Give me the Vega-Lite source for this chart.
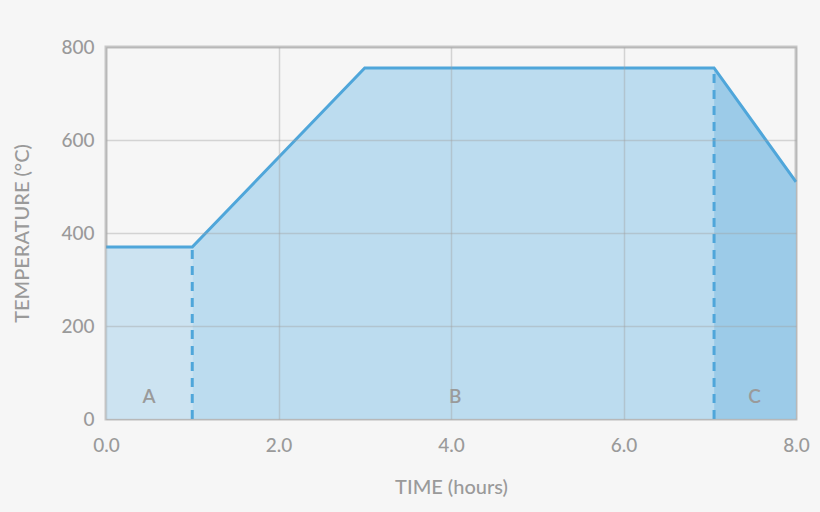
{
  "$schema": "https://vega.github.io/schema/vega-lite/v6.json",
  "width": 690,
  "height": 372,
  "autosize": {"type": "none"},
  "padding": {"left": 106, "top": 47, "right": 24, "bottom": 93},
  "background": "#f6f6f6",
  "config": {
    "view": {"stroke": "#c8c8c8", "strokeWidth": 3},
    "font": "Lato",
    "axis": {
      "labelFont": "Lato",
      "titleFont": "Lato",
      "labelColor": "#9a9a9a",
      "titleColor": "#9a9a9a",
      "labelFontSize": 19,
      "titleFontSize": 20,
      "titleFontWeight": 500,
      "labelFontWeight": 500,
      "labelFlush": false,
      "domain": false,
      "ticks": false,
      "gridColor": "#a0a0a0",
      "gridOpacity": 0.4,
      "gridWidth": 1.5
    }
  },
  "datasets": {
    "areas": [
      {"time": 0, "temp": 370, "phase": "A"},
      {"time": 1, "temp": 370, "phase": "A"},
      {"time": 1, "temp": 370, "phase": "B"},
      {"time": 3, "temp": 755, "phase": "B"},
      {"time": 7.05, "temp": 755, "phase": "B"},
      {"time": 7.05, "temp": 755, "phase": "C"},
      {"time": 8, "temp": 510, "phase": "C"}
    ],
    "profile": [
      {"time": 0, "temp": 370},
      {"time": 1, "temp": 370},
      {"time": 3, "temp": 755},
      {"time": 7.05, "temp": 755},
      {"time": 8, "temp": 510}
    ],
    "dividers": [
      {"time": 1, "temp": 370},
      {"time": 7.05, "temp": 755}
    ],
    "labels": [
      {"time": 0.5, "temp": 48, "label": "A"},
      {"time": 4.05, "temp": 48, "label": "B"},
      {"time": 7.52, "temp": 48, "label": "C"}
    ]
  },
  "encoding": {
    "x": {
      "field": "time",
      "type": "quantitative",
      "scale": {"domain": [0, 8], "nice": false},
      "axis": {
        "values": [0, 2, 4, 6, 8],
        "format": ".1f",
        "title": "TIME (hours)",
        "labelPadding": 17,
        "titlePadding": 22,
        "zindex": 1
      }
    },
    "y": {
      "field": "temp",
      "type": "quantitative",
      "stack": null,
      "scale": {"domain": [0, 800], "nice": false},
      "axis": {
        "values": [0, 200, 400, 600, 800],
        "title": "TEMPERATURE (°C)",
        "labelPadding": 12,
        "titlePadding": 28,
        "zindex": 1
      }
    }
  },
  "layer": [
    {
      "data": {"name": "areas"},
      "mark": {"type": "area", "opacity": 1},
      "encoding": {
        "color": {
          "field": "phase",
          "type": "nominal",
          "scale": {"domain": ["A", "B", "C"], "range": ["#cce3f1", "#bcdcef", "#9ccbe8"]},
          "legend": null
        }
      }
    },
    {
      "data": {"name": "dividers"},
      "mark": {"type": "rule", "color": "#4fa6da", "strokeWidth": 3, "strokeDash": [9, 7]},
      "encoding": {
        "y": {"datum": 0},
        "y2": {"field": "temp"}
      }
    },
    {
      "data": {"name": "profile"},
      "mark": {"type": "line", "color": "#4fa6da", "strokeWidth": 3},
      "encoding": {}
    },
    {
      "data": {"name": "labels"},
      "mark": {"type": "text", "color": "#9a9a9a", "fontSize": 19, "font": "Lato", "fontWeight": 600},
      "encoding": {
        "text": {"field": "label", "type": "nominal"}
      }
    }
  ]
}
